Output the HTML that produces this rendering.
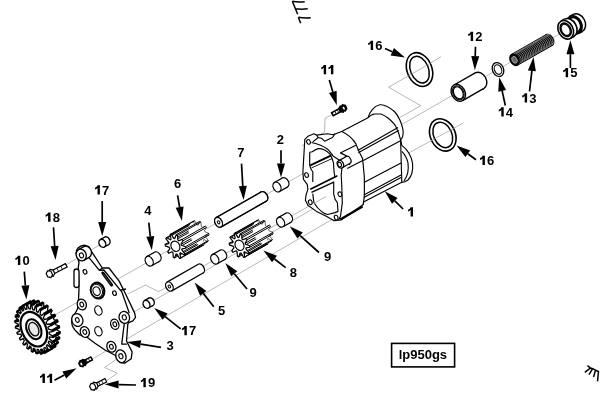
<!DOCTYPE html>
<html><head><meta charset="utf-8"><style>
html,body{margin:0;padding:0;background:#fff;}
svg{display:block;}
text{font-family:"Liberation Sans",sans-serif;font-weight:bold;fill:#000;}
.t{will-change:transform;}
</style></head><body>
<svg class="t" width="600" height="406" viewBox="0 0 600 406">
<rect width="600" height="406" fill="#fff"/>
<ellipse cx="419.5" cy="69.6" rx="12.4" ry="17.5" transform="rotate(-22 419.5 69.6)" fill="#fff" stroke="#000" stroke-width="1.6"/>
<ellipse cx="419.5" cy="69.6" rx="9" ry="13.9" transform="rotate(-22 419.5 69.6)" fill="#fff" stroke="#000" stroke-width="1.5"/>
<ellipse cx="442.8" cy="134.9" rx="12.5" ry="16.8" transform="rotate(-24 442.8 134.9)" fill="#fff" stroke="#000" stroke-width="1.6"/>
<ellipse cx="442.8" cy="134.9" rx="9.1" ry="13.3" transform="rotate(-24 442.8 134.9)" fill="#fff" stroke="#000" stroke-width="1.5"/>
<ellipse cx="263.78" cy="196.55" rx="3.5" ry="5.2" transform="rotate(-28 263.78 196.55)" fill="#fff" stroke="#000" stroke-width="1.5"/>
<path d="M216.1 217.74L261.28 191.99L266.28 201.11L221.1 226.86Z" fill="#fff" stroke="none"/>
<path d="M216.1 217.74L261.28 191.99M221.1 226.86L266.28 201.11" fill="none" stroke="#000" stroke-width="1.5"/>
<ellipse cx="218.6" cy="222.3" rx="3.5" ry="5.2" transform="rotate(-28 218.6 222.3)" fill="#fff" stroke="#000" stroke-width="1.5"/>
<ellipse cx="218.6" cy="222.3" rx="1.2" ry="1.6" transform="rotate(-28 218.6 222.3)" fill="#fff" stroke="#000" stroke-width="1"/>
<path d="M45 320.7L305 172.5" fill="none" stroke="#999" stroke-width="0.7" stroke-linejoin="round"/>
<path d="M169 285.7L325 197" fill="none" stroke="#999" stroke-width="0.7" stroke-linejoin="round"/>
<path d="M127.7 294L145.5 285.1L158.6 291.7L169 285.7" fill="none" stroke="#999" stroke-width="0.7" stroke-linejoin="round"/>
<path d="M91.8 359.3L336 217.2" fill="none" stroke="#999" stroke-width="0.7" stroke-linejoin="round"/>
<path d="M124.3 317.4L340 193.3" fill="none" stroke="#999" stroke-width="0.7" stroke-linejoin="round"/>
<path d="M60 268.5L102 243.5" fill="none" stroke="#999" stroke-width="0.7" stroke-linejoin="round"/>
<path d="M331 115.2L325 118.2L324.5 132L301.7 146" fill="none" stroke="#999" stroke-width="0.7" stroke-linejoin="round"/>
<path d="M402.2 124.2L566.2 30.2" fill="none" stroke="#999" stroke-width="0.7" stroke-linejoin="round"/>
<path d="M441.1 56.7L420.2 69.2L388.6 87.2L420.7 105.7L399.7 117.5" fill="none" stroke="#999" stroke-width="0.7" stroke-linejoin="round"/>
<path d="M406 154.5L463.3 123" fill="none" stroke="#999" stroke-width="0.7" stroke-linejoin="round"/>
<path d="M107 380.3L117.4 373.3L104.6 367.5L116.2 359.3L120.9 356.2" fill="none" stroke="#999" stroke-width="0.7" stroke-linejoin="round"/>
<path d="M292.3 1.3 Q298 2.5 304.7 1.8 M292.3 1.3 L297.7 14.3 M295.3 8.7 Q301 9.5 307.7 8.8 M298.3 17.3 Q304 18.3 310.7 17.8 M298.3 17.3 L300.7 23.3" fill="none" stroke="#000" stroke-width="1.5"/>
<path d="M587.4 365.7 L590.4 368 L584.8 372.4 M590.4 368 L592.6 368.7 L589 374.6 M592.6 368.7 L595.5 370.2 L593.6 377 M595.5 370.2 L598.5 371.5 L597.5 381.3" fill="none" stroke="#000" stroke-width="1.5"/>
<path d="M304.8 139.4 L307.9 136.3 L314 133.8 L316.5 135.1 L327.6 133.8 L333 134.8 L341.7 131.5 L368 117.7 C369.5 112 374 106 379.7 104.8 C383 104.3 388 106 394.4 111.5 C398.5 115.5 402 124 403 130 C403.5 134 402.5 138 400.6 139.8 L401.8 145.4 C406 148.5 411 155 412.5 163 C413.3 170 412 176 408 180 C406 181.5 403.5 182.3 401.8 182.3 L363.5 201.9 L363.3 204.5 L341 220 L333.7 220.6 L326.3 216.3 L316.5 211.4 L307.9 205.3 L305.4 200.3 L306 195.4 L307.9 189.2 L307.2 184.3 L303.5 179.4 L302.9 172 Z" fill="#fff" stroke="#000" stroke-width="1.15" stroke-linejoin="round"/>
<path d="M311.5 142.5 C316 143.5 322 145 327.6 149.2 C330 151 331.5 154 333 156 L339.5 160.3" fill="none" stroke="#000" stroke-width="1.15" stroke-linejoin="round"/>
<path d="M342 167.6 L341.2 175 L341.7 184.3 L342.3 202.8 L340.5 216.3 L338.6 220" fill="none" stroke="#000" stroke-width="1.15" stroke-linejoin="round"/>
<path d="M316.5 135.1 L318.3 137.5 L312.8 141.9" fill="none" stroke="#000" stroke-width="1.15" stroke-linejoin="round"/>
<path d="M318.3 137.5 L321.4 138.2 L324.5 141.2 L332.5 137.5 L335 133.8" fill="none" stroke="#000" stroke-width="1.15" stroke-linejoin="round"/>
<path d="M341.7 131.5 C346 133.4 352.2 137.7 355.9 143.9 C358 150 360 154 362.6 158.6 C363.5 165 365 180 364.4 195 L363.3 204.5" fill="none" stroke="#000" stroke-width="1.15" stroke-linejoin="round"/>
<path d="M357.7 150.6 L398 127.5" fill="none" stroke="#000" stroke-width="1.15" stroke-linejoin="round"/>
<path d="M358.3 152.8 L398.6 130.5" fill="none" stroke="#000" stroke-width="1.15" stroke-linejoin="round"/>
<path d="M363.3 160.5 L401 140.5" fill="none" stroke="#000" stroke-width="1.15" stroke-linejoin="round"/>
<path d="M368 117.7 C370 115.5 372.5 114 374.8 114 L380.9 114 C384 115 386 116.5 388.3 118.3 C392 121.5 394.5 124 395.7 126.3 C397.5 129.5 399 133 400.6 139.8" fill="none" stroke="#000" stroke-width="1.15" stroke-linejoin="round"/>
<path d="M400.6 139.8 L401.8 182.3" fill="none" stroke="#000" stroke-width="1.15" stroke-linejoin="round"/>
<path d="M401.8 151.3 C404.5 154 407 158 408 163 C408.8 169 408.5 175 404 180.9" fill="none" stroke="#000" stroke-width="1.15" stroke-linejoin="round"/>
<path d="M364.4 182.3 L401 163.1" fill="none" stroke="#000" stroke-width="1.15" stroke-linejoin="round"/>
<path d="M363.8 195 L401 175" fill="none" stroke="#000" stroke-width="1.15" stroke-linejoin="round"/>
<path d="M363.8 197.6 L401 177.6" fill="none" stroke="#000" stroke-width="1.15" stroke-linejoin="round"/>
<path d="M340.3 152.9 L355.9 145.2" fill="none" stroke="#000" stroke-width="1.15" stroke-linejoin="round"/>
<path d="M340.3 152.9 C343 154 346 155.5 348 157.5 C349.5 159 350 161 349.6 165" fill="none" stroke="#000" stroke-width="1.15" stroke-linejoin="round"/>
<path d="M347.2 168.4 L363.2 160.3" fill="none" stroke="#000" stroke-width="1.15" stroke-linejoin="round"/>
<path d="M309.7 152.3 L312.2 151.7 L315.2 149.9 L318.3 148.6 C322 148.5 327 151 330 154.2 C331.5 157 333 160 333.5 163 C333.7 167 333.7 172 335 177.6" fill="none" stroke="#000" stroke-width="1.15" stroke-linejoin="round"/>
<path d="M309.7 152.3 L309.7 165.3 L311 169 L312.8 172 L312.8 181.9" fill="none" stroke="#000" stroke-width="1.15" stroke-linejoin="round"/>
<path d="M312.8 193.6 L313.4 199.1 L314 202.8 C316 206 318 209 321.4 211.4 C323 213 325 214 327.6 214.5 L335 212.6 L338 211.4 L337.4 202.8 L335 199.1 L333.7 194.2 L333.7 183.1" fill="none" stroke="#000" stroke-width="1.15" stroke-linejoin="round"/>
<path d="M310.3 165.3 L331.3 155.4" stroke="#000" stroke-width="2.0"/>
<path d="M311.5 167.9 L332.5 158.4" stroke="#000" stroke-width="0.9"/>
<path d="M310.3 189.2 L337.4 175.7" stroke="#000" stroke-width="1.6"/>
<path d="M311.5 192.3 L334.3 181.9" stroke="#000" stroke-width="1.3"/>
<path d="M340.2 219.5 L362.6 206.5" stroke="#000" stroke-width="2.2"/>
<ellipse cx="347.78" cy="160.09" rx="3" ry="3.9" transform="rotate(-28 347.78 160.09)" fill="#fff" stroke="#000" stroke-width="1.2"/>
<path d="M338.51 160.89L345.89 156.68L349.68 163.5L342.29 167.71Z" fill="#fff" stroke="none"/>
<path d="M338.51 160.89L345.89 156.68M342.29 167.71L349.68 163.5" fill="none" stroke="#000" stroke-width="1.2"/>
<ellipse cx="340.4" cy="164.3" rx="3" ry="3.9" transform="rotate(-28 340.4 164.3)" fill="#fff" stroke="#000" stroke-width="1.2"/>
<ellipse cx="308.5" cy="141.9" rx="1.8" ry="2.4" transform="rotate(-20 308.5 141.9)" fill="#fff" stroke="#000" stroke-width="1.1"/>
<ellipse cx="339.6" cy="164.6" rx="1.8" ry="2.4" transform="rotate(-20 339.6 164.6)" fill="#fff" stroke="#000" stroke-width="1.1"/>
<ellipse cx="306.6" cy="175.1" rx="1.8" ry="2.4" transform="rotate(-20 306.6 175.1)" fill="#fff" stroke="#000" stroke-width="1.1"/>
<ellipse cx="339.9" cy="194.2" rx="1.8" ry="2.4" transform="rotate(-20 339.9 194.2)" fill="#fff" stroke="#000" stroke-width="1.1"/>
<ellipse cx="310.3" cy="202.2" rx="1.8" ry="2.4" transform="rotate(-20 310.3 202.2)" fill="#fff" stroke="#000" stroke-width="1.1"/>
<ellipse cx="336.2" cy="217.6" rx="1.8" ry="2.4" transform="rotate(-20 336.2 217.6)" fill="#fff" stroke="#000" stroke-width="1.1"/>
<path d="M314 203.5L326 196.5" fill="none" stroke="#999" stroke-width="0.7" stroke-linejoin="round"/>
<path d="M76.1 253.3 C76.3 249 79 246 84.2 245.2 L88.7 246.6 L90.9 250.5 L102.3 268 L109 268 L119.3 281.4 L125.2 293.2 L134.7 313.1 L135.5 317.4 L132.9 320.9 L128.6 322.6 L127.8 324.3 L126.5 341 L132.1 351.9 L131.2 358.8 L125 363 L120 362.5 L116.5 356 L105 350 L95 343.3 L87 337.3 L80 335 C78 333 74 330 72.5 326 C71 322 71.5 316 75 313.5 L77.5 309 L78.5 300 L79 288.7 L78.3 267.3 L79 262.2 Z" fill="#fff" stroke="#000" stroke-width="1.3" stroke-linejoin="round"/>
<path d="M86.8 254.8 L99.4 270.3 L102.3 268" fill="none" stroke="#000" stroke-width="1.3" stroke-linejoin="round"/>
<path d="M99.4 270.3 L103.8 270 L121.8 291.8 L129.3 313.1" fill="none" stroke="#000" stroke-width="1.3" stroke-linejoin="round"/>
<path d="M124.3 323.4 L121.7 344.1 L126.9 344.1" fill="none" stroke="#000" stroke-width="1.3" stroke-linejoin="round"/>
<path d="M121 290 L126 289" fill="none" stroke="#000" stroke-width="1.3" stroke-linejoin="round"/>
<path d="M102.8 273 L111.6 285" stroke="#000" stroke-width="3.0" stroke-linecap="round"/>
<path d="M103.2 273.8 L111 284.3" stroke="#777" stroke-width="0.6"/>
<rect x="74" y="269" width="5" height="18.5" rx="2.5" fill="#fff" stroke="#000" stroke-width="1.3"/>
<ellipse cx="86.41" cy="252.03" rx="4.9" ry="6" transform="rotate(-20 86.41 252.03)" fill="#fff" stroke="#000" stroke-width="1.3"/>
<path d="M78.53 249.65L83.75 246.68L89.08 257.38L83.87 260.35Z" fill="#fff" stroke="none"/>
<path d="M78.53 249.65L83.75 246.68M83.87 260.35L89.08 257.38" fill="none" stroke="#000" stroke-width="1.3"/>
<ellipse cx="81.2" cy="255" rx="4.9" ry="6" transform="rotate(-20 81.2 255)" fill="#fff" stroke="#000" stroke-width="1.3"/>
<ellipse cx="81.5" cy="255.4" rx="2" ry="2.5" transform="rotate(-20 81.5 255.4)" fill="#fff" stroke="#000" stroke-width="1.1"/>
<ellipse cx="124.3" cy="317.4" rx="5.2" ry="6" transform="rotate(-20 124.3 317.4)" fill="#fff" stroke="#000" stroke-width="1.3"/>
<ellipse cx="124.3" cy="317.4" rx="2" ry="2.6" transform="rotate(-20 124.3 317.4)" fill="#fff" stroke="#000" stroke-width="1.1"/>
<ellipse cx="120.9" cy="356.2" rx="5" ry="6.5" transform="rotate(-20 120.9 356.2)" fill="#fff" stroke="#000" stroke-width="1.3"/>
<ellipse cx="120.9" cy="356.2" rx="2" ry="2.6" transform="rotate(-20 120.9 356.2)" fill="#fff" stroke="#000" stroke-width="1.1"/>
<ellipse cx="97.6" cy="290.6" rx="6.6" ry="8" transform="rotate(-20 97.6 290.6)" fill="#fff" stroke="#000" stroke-width="2.2"/>
<ellipse cx="96.8" cy="291" rx="5.6" ry="6.8" transform="rotate(-20 96.8 291)" fill="#fff" stroke="#000" stroke-width="1.0"/>
<ellipse cx="96.6" cy="291.2" rx="3.5" ry="4.5" transform="rotate(-20 96.6 291.2)" fill="#fff" stroke="#000" stroke-width="1.2"/>
<ellipse cx="81.8" cy="304.5" rx="4.5" ry="5.5" transform="rotate(-20 81.8 304.5)" fill="#fff" stroke="#000" stroke-width="1.3"/>
<ellipse cx="81.8" cy="304.5" rx="1.8" ry="2.4" transform="rotate(-20 81.8 304.5)" fill="#fff" stroke="#000" stroke-width="1.1"/>
<ellipse cx="77.3" cy="320" rx="5.5" ry="6.5" transform="rotate(-20 77.3 320)" fill="#fff" stroke="#000" stroke-width="1.3"/>
<ellipse cx="77.3" cy="320" rx="1.8" ry="2.4" transform="rotate(-20 77.3 320)" fill="#fff" stroke="#000" stroke-width="1.1"/>
<ellipse cx="84.8" cy="332" rx="4.5" ry="5.5" transform="rotate(-20 84.8 332)" fill="#fff" stroke="#000" stroke-width="1.3"/>
<ellipse cx="84.8" cy="332" rx="1.8" ry="2.4" transform="rotate(-20 84.8 332)" fill="#fff" stroke="#000" stroke-width="1.1"/>
<ellipse cx="114.8" cy="324.3" rx="4" ry="5.2" transform="rotate(-20 114.8 324.3)" fill="#fff" stroke="#000" stroke-width="1.3"/>
<ellipse cx="114.8" cy="324.3" rx="1.8" ry="2.4" transform="rotate(-20 114.8 324.3)" fill="#fff" stroke="#000" stroke-width="1.1"/>
<ellipse cx="111.4" cy="346.7" rx="4.5" ry="5.5" transform="rotate(-20 111.4 346.7)" fill="#fff" stroke="#000" stroke-width="1.3"/>
<ellipse cx="111.4" cy="346.7" rx="1.8" ry="2.4" transform="rotate(-20 111.4 346.7)" fill="#fff" stroke="#000" stroke-width="1.1"/>
<ellipse cx="85" cy="271.8" rx="1.8" ry="2.3" transform="rotate(-20 85 271.8)" fill="#fff" stroke="#000" stroke-width="1.2"/>
<ellipse cx="114.5" cy="293.2" rx="1.8" ry="2.3" transform="rotate(-20 114.5 293.2)" fill="#fff" stroke="#000" stroke-width="1.2"/>
<ellipse cx="98.4" cy="310.5" rx="3.5" ry="4.8" transform="rotate(-20 98.4 310.5)" fill="#fff" stroke="#000" stroke-width="1.2"/>
<ellipse cx="98.4" cy="331.2" rx="3.5" ry="4.8" transform="rotate(-20 98.4 331.2)" fill="#fff" stroke="#000" stroke-width="1.2"/>
<ellipse cx="479.59" cy="80.67" rx="6.7" ry="8.9" transform="rotate(-28 479.59 80.67)" fill="#fff" stroke="#000" stroke-width="1.4"/>
<path d="M453.99 85.01L475.28 72.88L483.89 88.46L462.61 100.59Z" fill="#fff" stroke="none"/>
<path d="M453.99 85.01L475.28 72.88M462.61 100.59L483.89 88.46" fill="none" stroke="#000" stroke-width="1.4"/>
<ellipse cx="458.3" cy="92.8" rx="6.7" ry="8.9" transform="rotate(-28 458.3 92.8)" fill="#fff" stroke="#000" stroke-width="1.4"/>
<ellipse cx="458.3" cy="92.8" rx="5.3" ry="7.4" transform="rotate(-28 458.3 92.8)" fill="#fff" stroke="#000" stroke-width="1.0"/>
<ellipse cx="458.3" cy="92.8" rx="4.5" ry="6.4" transform="rotate(-28 458.3 92.8)" fill="#fff" stroke="#000" stroke-width="1.2"/>
<ellipse cx="498" cy="69.5" rx="5.5" ry="7.2" transform="rotate(-24 498 69.5)" fill="#fff" stroke="#000" stroke-width="1.3"/>
<ellipse cx="498" cy="69.5" rx="3.5" ry="5" transform="rotate(-24 498 69.5)" fill="#fff" stroke="#000" stroke-width="1.1"/>
<ellipse cx="549.25" cy="39.99" rx="4.1" ry="5.9" transform="rotate(-28 549.25 39.99)" fill="#000" stroke="#000" stroke-width="1.5"/>
<path d="M511.66 54.63L546.41 34.82L552.1 45.16L517.34 64.97Z" fill="#000" stroke="#000" stroke-width="1.5"/>
<path d="M512.44 54.39A3.98 5.72 -28 0 1 517.95 64.42" fill="none" stroke="#ccc" stroke-width="0.6"/>
<path d="M514.02 53.49A3.98 5.72 -28 0 1 519.53 63.52" fill="none" stroke="#ccc" stroke-width="0.6"/>
<path d="M515.6 52.59A3.98 5.72 -28 0 1 521.11 62.62" fill="none" stroke="#ccc" stroke-width="0.6"/>
<path d="M517.18 51.69A3.98 5.72 -28 0 1 522.69 61.72" fill="none" stroke="#ccc" stroke-width="0.6"/>
<path d="M518.76 50.79A3.98 5.72 -28 0 1 524.27 60.82" fill="none" stroke="#ccc" stroke-width="0.6"/>
<path d="M520.34 49.89A3.98 5.72 -28 0 1 525.85 59.92" fill="none" stroke="#ccc" stroke-width="0.6"/>
<path d="M521.92 48.99A3.98 5.72 -28 0 1 527.43 59.02" fill="none" stroke="#ccc" stroke-width="0.6"/>
<path d="M523.49 48.09A3.98 5.72 -28 0 1 529.01 58.12" fill="none" stroke="#ccc" stroke-width="0.6"/>
<path d="M525.07 47.19A3.98 5.72 -28 0 1 530.59 57.22" fill="none" stroke="#ccc" stroke-width="0.6"/>
<path d="M526.65 46.29A3.98 5.72 -28 0 1 532.17 56.32" fill="none" stroke="#ccc" stroke-width="0.6"/>
<path d="M528.23 45.39A3.98 5.72 -28 0 1 533.75 55.42" fill="none" stroke="#ccc" stroke-width="0.6"/>
<path d="M529.81 44.49A3.98 5.72 -28 0 1 535.33 54.51" fill="none" stroke="#ccc" stroke-width="0.6"/>
<path d="M531.39 43.59A3.98 5.72 -28 0 1 536.91 53.61" fill="none" stroke="#ccc" stroke-width="0.6"/>
<path d="M532.97 42.69A3.98 5.72 -28 0 1 538.49 52.71" fill="none" stroke="#ccc" stroke-width="0.6"/>
<path d="M534.55 41.79A3.98 5.72 -28 0 1 540.07 51.81" fill="none" stroke="#ccc" stroke-width="0.6"/>
<path d="M536.13 40.89A3.98 5.72 -28 0 1 541.65 50.91" fill="none" stroke="#ccc" stroke-width="0.6"/>
<path d="M537.71 39.99A3.98 5.72 -28 0 1 543.23 50.01" fill="none" stroke="#ccc" stroke-width="0.6"/>
<path d="M539.29 39.09A3.98 5.72 -28 0 1 544.81 49.11" fill="none" stroke="#ccc" stroke-width="0.6"/>
<path d="M540.87 38.18A3.98 5.72 -28 0 1 546.39 48.21" fill="none" stroke="#ccc" stroke-width="0.6"/>
<path d="M542.45 37.28A3.98 5.72 -28 0 1 547.97 47.31" fill="none" stroke="#ccc" stroke-width="0.6"/>
<path d="M544.03 36.38A3.98 5.72 -28 0 1 549.55 46.41" fill="none" stroke="#ccc" stroke-width="0.6"/>
<path d="M545.61 35.48A3.98 5.72 -28 0 1 551.13 45.51" fill="none" stroke="#ccc" stroke-width="0.6"/>
<path d="M547.19 34.58A3.98 5.72 -28 0 1 552.71 44.61" fill="none" stroke="#ccc" stroke-width="0.6"/>
<ellipse cx="514.5" cy="59.8" rx="4.1" ry="5.9" transform="rotate(-28 514.5 59.8)" fill="#111" stroke="#000" stroke-width="1.6"/>
<ellipse cx="514.5" cy="59.8" rx="2.46" ry="3.54" transform="rotate(-28 514.5 59.8)" fill="#666" stroke="#aaa" stroke-width="0.8"/>
<ellipse cx="577.86" cy="22.87" rx="7.2" ry="9.6" transform="rotate(-28 577.86 22.87)" fill="#fff" stroke="#000" stroke-width="1.5"/>
<path d="M569.74 16.45L573.22 14.47L582.51 31.27L579.03 33.25Z" fill="#fff" stroke="none"/>
<path d="M569.74 16.45L573.22 14.47M579.03 33.25L582.51 31.27" fill="none" stroke="#000" stroke-width="1.5"/>
<ellipse cx="574.39" cy="24.85" rx="7.2" ry="9.6" transform="rotate(-28 574.39 24.85)" fill="#fff" stroke="#000" stroke-width="1.5"/>
<ellipse cx="574.39" cy="24.85" rx="5.8" ry="8.1" transform="rotate(-28 574.39 24.85)" fill="#fff" stroke="#000" stroke-width="1.0"/>
<ellipse cx="574.82" cy="24.6" rx="5.7" ry="7.9" transform="rotate(-28 574.82 24.6)" fill="#fff" stroke="#000" stroke-width="2.4"/>
<path d="M564.93 21.15L571.01 17.68L578.64 31.52L572.56 34.98Z" fill="#fff" stroke="none"/>
<path d="M564.93 21.15L571.01 17.68M572.56 34.98L578.64 31.52" fill="none" stroke="#000" stroke-width="2.4"/>
<ellipse cx="568.74" cy="28.07" rx="5.7" ry="7.9" transform="rotate(-28 568.74 28.07)" fill="#fff" stroke="#000" stroke-width="2.4"/>
<ellipse cx="569.18" cy="27.82" rx="7.3" ry="9.8" transform="rotate(-28 569.18 27.82)" fill="#fff" stroke="#000" stroke-width="1.6"/>
<path d="M560.96 21.22L564.43 19.24L573.92 36.4L570.44 38.38Z" fill="#fff" stroke="none"/>
<path d="M560.96 21.22L564.43 19.24M570.44 38.38L573.92 36.4" fill="none" stroke="#000" stroke-width="1.6"/>
<ellipse cx="565.7" cy="29.8" rx="7.3" ry="9.8" transform="rotate(-28 565.7 29.8)" fill="#fff" stroke="#000" stroke-width="1.6"/>
<ellipse cx="565.7" cy="29.8" rx="5" ry="7.1" transform="rotate(-28 565.7 29.8)" fill="#fff" stroke="#000" stroke-width="1.6"/>
<ellipse cx="565.7" cy="29.8" rx="4.1" ry="6" transform="rotate(-28 565.7 29.8)" fill="#fff" stroke="#000" stroke-width="1.2"/>
<path d="M341.78 107.11L331.58 112.71L333.22 115.69L343.42 110.09Z" fill="#fff" stroke="#000" stroke-width="1.6"/>
<path d="M337.19 109.63L338.83 112.61" stroke="#000" stroke-width="0.8"/>
<path d="M334.64 111.03L336.28 114.01" stroke="#000" stroke-width="0.8"/>
<path d="M344.49 109.61L343.12 112.07L340.35 111.54L338.95 108.55L340.33 106.09L343.1 106.62Z" fill="#000" stroke="#000" stroke-width="1.6"/>
<path d="M346.68 108.41L345.31 110.87L342.54 110.34L341.15 107.35L342.52 104.89L345.29 105.42Z" fill="#000" stroke="#000" stroke-width="1.6"/>
<ellipse cx="343.61" cy="108.08" rx="0.9" ry="1.6" transform="rotate(-25 343.91 107.88)" fill="#fff"/>
<ellipse cx="284.82" cy="182.54" rx="3.7" ry="5.2" transform="rotate(-28 284.82 182.54)" fill="#fff" stroke="#000" stroke-width="1.3"/>
<path d="M274.49 182.45L282.31 177.99L287.33 187.1L279.51 191.55Z" fill="#fff" stroke="none"/>
<path d="M274.49 182.45L282.31 177.99M279.51 191.55L287.33 187.1" fill="none" stroke="#000" stroke-width="1.3"/>
<ellipse cx="277" cy="187" rx="3.7" ry="5.2" transform="rotate(-28 277 187)" fill="#fff" stroke="#000" stroke-width="1.3"/>
<ellipse cx="288.42" cy="217.74" rx="3.7" ry="5.2" transform="rotate(-28 288.42 217.74)" fill="#fff" stroke="#000" stroke-width="1.3"/>
<path d="M278.09 217.65L285.91 213.19L290.93 222.3L283.11 226.75Z" fill="#fff" stroke="none"/>
<path d="M278.09 217.65L285.91 213.19M283.11 226.75L290.93 222.3" fill="none" stroke="#000" stroke-width="1.3"/>
<ellipse cx="280.6" cy="222.2" rx="3.7" ry="5.2" transform="rotate(-28 280.6 222.2)" fill="#fff" stroke="#000" stroke-width="1.3"/>
<ellipse cx="157.02" cy="256.74" rx="3.7" ry="5.2" transform="rotate(-28 157.02 256.74)" fill="#fff" stroke="#000" stroke-width="1.3"/>
<path d="M146.69 256.65L154.51 252.19L159.53 261.3L151.71 265.75Z" fill="#fff" stroke="none"/>
<path d="M146.69 256.65L154.51 252.19M151.71 265.75L159.53 261.3" fill="none" stroke="#000" stroke-width="1.3"/>
<ellipse cx="149.2" cy="261.2" rx="3.7" ry="5.2" transform="rotate(-28 149.2 261.2)" fill="#fff" stroke="#000" stroke-width="1.3"/>
<ellipse cx="222.62" cy="254.74" rx="3.7" ry="5.2" transform="rotate(-28 222.62 254.74)" fill="#fff" stroke="#000" stroke-width="1.3"/>
<path d="M212.29 254.65L220.11 250.19L225.13 259.3L217.31 263.75Z" fill="#fff" stroke="none"/>
<path d="M212.29 254.65L220.11 250.19M217.31 263.75L225.13 259.3" fill="none" stroke="#000" stroke-width="1.3"/>
<ellipse cx="214.8" cy="259.2" rx="3.7" ry="5.2" transform="rotate(-28 214.8 259.2)" fill="#fff" stroke="#000" stroke-width="1.3"/>
<ellipse cx="106.64" cy="240.82" rx="3.2" ry="4.2" transform="rotate(-28 106.64 240.82)" fill="#fff" stroke="#000" stroke-width="1.4"/>
<path d="M100.27 239.63L104.61 237.15L108.68 244.5L104.33 246.97Z" fill="#fff" stroke="none"/>
<path d="M100.27 239.63L104.61 237.15M104.33 246.97L108.68 244.5" fill="none" stroke="#000" stroke-width="1.4"/>
<ellipse cx="102.3" cy="243.3" rx="3.2" ry="4.2" transform="rotate(-28 102.3 243.3)" fill="#fff" stroke="#000" stroke-width="1.4"/>
<ellipse cx="150.84" cy="301.82" rx="3.2" ry="4.2" transform="rotate(-28 150.84 301.82)" fill="#fff" stroke="#000" stroke-width="1.4"/>
<path d="M144.47 300.63L148.81 298.15L152.88 305.5L148.53 307.97Z" fill="#fff" stroke="none"/>
<path d="M144.47 300.63L148.81 298.15M148.53 307.97L152.88 305.5" fill="none" stroke="#000" stroke-width="1.4"/>
<ellipse cx="146.5" cy="304.3" rx="3.2" ry="4.2" transform="rotate(-28 146.5 304.3)" fill="#fff" stroke="#000" stroke-width="1.4"/>
<ellipse cx="263.78" cy="196.55" rx="3.5" ry="5.2" transform="rotate(-28 263.78 196.55)" fill="#fff" stroke="#000" stroke-width="1.3"/>
<path d="M216.1 217.74L261.28 191.99L266.28 201.11L221.1 226.86Z" fill="#fff" stroke="none"/>
<path d="M216.1 217.74L261.28 191.99M221.1 226.86L266.28 201.11" fill="none" stroke="#000" stroke-width="1.3"/>
<ellipse cx="218.6" cy="222.3" rx="3.5" ry="5.2" transform="rotate(-28 218.6 222.3)" fill="#fff" stroke="#000" stroke-width="1.3"/>
<ellipse cx="218.6" cy="222.3" rx="1.2" ry="1.6" transform="rotate(-28 218.6 222.3)" fill="#fff" stroke="#000" stroke-width="1"/>
<ellipse cx="200.68" cy="268.67" rx="3.4" ry="5" transform="rotate(-28 200.68 268.67)" fill="#fff" stroke="#000" stroke-width="1.3"/>
<path d="M166.99 282.12L198.27 264.29L203.08 273.06L171.81 290.88Z" fill="#fff" stroke="none"/>
<path d="M166.99 282.12L198.27 264.29M171.81 290.88L203.08 273.06" fill="none" stroke="#000" stroke-width="1.3"/>
<ellipse cx="169.4" cy="286.5" rx="3.4" ry="5" transform="rotate(-28 169.4 286.5)" fill="#fff" stroke="#000" stroke-width="1.3"/>
<ellipse cx="169.4" cy="286.5" rx="1.2" ry="1.6" transform="rotate(-28 169.4 286.5)" fill="#fff" stroke="#000" stroke-width="1"/>
<path d="M204.69 231.24L204.91 231.82L208.88 233.35L209.1 234.89L205.44 235.52L205.38 236.08L205.29 236.61L208.36 240.5L207.79 241.65L203.91 239.4L203.58 239.72L203.22 240L204.22 244.75L203.07 245.08L200.46 240.8L199.97 240.76L199.48 240.68L198.02 244.49L196.74 243.87L196.39 239.2L195.94 238.82L195.5 238.41L192.14 239.81L191.22 238.48L193.27 235.2L193.02 234.63L192.81 234.04L188.83 232.51L188.61 230.97L192.28 230.34L192.33 229.78L192.42 229.25L189.35 225.37L189.92 224.21L193.8 226.46L194.14 226.15L194.5 225.86L193.5 221.11L194.65 220.78L197.26 225.06L197.74 225.1L198.24 225.18L199.7 221.37L200.98 221.99L201.32 226.67L201.78 227.04L202.21 227.45L205.57 226.05L206.5 227.38L204.45 230.66Z" fill="#fff" stroke="#000" stroke-width="0.6" stroke-linejoin="round"/>
<path d="M169.12 234.92L192.58 221.55L205.14 244.31L181.68 257.68Z" fill="#fff"/>
<path d="M185.42 246.72L208.88 233.35M185.64 248.26L209.1 234.89M184.91 253.87L208.36 240.5M184.33 255.02L207.79 241.65M180.76 258.12L204.22 244.75M179.61 258.45L203.07 245.08M174.56 257.86L198.02 244.49M173.28 257.24L196.74 243.87M168.69 253.18L192.14 239.81M167.76 251.85L191.22 238.48M165.38 245.88L188.83 232.51M165.16 244.34L188.61 230.97M165.89 238.73L189.35 225.37M166.47 237.58L189.92 224.21M170.04 234.48L193.5 221.11M171.19 234.15L194.65 220.78M176.24 234.74L199.7 221.37M177.52 235.36L200.98 221.99M182.11 239.42L205.57 226.05M183.04 240.75L206.5 227.38" fill="none" stroke="#000" stroke-width="1.0"/>
<path d="M181.24 244.61L181.45 245.19L185.42 246.72L185.64 248.26L181.98 248.89L181.92 249.45L181.83 249.98L184.91 253.87L184.33 255.02L180.45 252.77L180.12 253.09L179.76 253.37L180.76 258.12L179.61 258.45L177 254.17L176.51 254.13L176.02 254.05L174.56 257.86L173.28 257.24L172.94 252.57L172.48 252.19L172.05 251.78L168.69 253.18L167.76 251.85L169.81 248.57L169.56 247.99L169.35 247.41L165.38 245.88L165.16 244.34L168.82 243.71L168.88 243.15L168.97 242.62L165.89 238.73L166.47 237.58L170.35 239.83L170.68 239.51L171.04 239.23L170.04 234.48L171.19 234.15L173.8 238.43L174.29 238.47L174.78 238.55L176.24 234.74L177.52 235.36L177.86 240.03L178.32 240.41L178.75 240.82L182.11 239.42L183.04 240.75L180.99 244.03Z" fill="#fff" stroke="#000" stroke-width="1.2" stroke-linejoin="round"/>
<ellipse cx="175.4" cy="246.3" rx="4.3" ry="5.4" transform="rotate(-28 175.4 246.3)" fill="#fff" stroke="#000" stroke-width="1.2"/>
<path d="M268.79 230.24L269.01 230.82L272.98 232.35L273.2 233.89L269.54 234.52L269.48 235.08L269.39 235.61L272.46 239.5L271.89 240.65L268.01 238.4L267.68 238.72L267.32 239L268.32 243.75L267.17 244.08L264.56 239.8L264.07 239.76L263.58 239.68L262.12 243.49L260.84 242.87L260.49 238.2L260.04 237.82L259.6 237.41L256.24 238.81L255.32 237.48L257.37 234.2L257.12 233.63L256.91 233.04L252.93 231.51L252.71 229.97L256.38 229.34L256.43 228.78L256.52 228.25L253.45 224.37L254.02 223.21L257.9 225.46L258.24 225.15L258.6 224.86L257.6 220.11L258.75 219.78L261.36 224.06L261.84 224.1L262.34 224.18L263.8 220.37L265.08 220.99L265.42 225.67L265.88 226.04L266.31 226.45L269.67 225.05L270.6 226.38L268.55 229.66Z" fill="#fff" stroke="#000" stroke-width="0.6" stroke-linejoin="round"/>
<path d="M233.22 233.92L256.68 220.55L269.24 243.31L245.78 256.68Z" fill="#fff"/>
<path d="M249.52 245.72L272.98 232.35M249.74 247.26L273.2 233.89M249.01 252.87L272.46 239.5M248.43 254.02L271.89 240.65M244.86 257.12L268.32 243.75M243.71 257.45L267.17 244.08M238.66 256.86L262.12 243.49M237.38 256.24L260.84 242.87M232.79 252.18L256.24 238.81M231.86 250.85L255.32 237.48M229.48 244.88L252.93 231.51M229.26 243.34L252.71 229.97M229.99 237.73L253.45 224.37M230.57 236.58L254.02 223.21M234.14 233.48L257.6 220.11M235.29 233.15L258.75 219.78M240.34 233.74L263.8 220.37M241.62 234.36L265.08 220.99M246.21 238.42L269.67 225.05M247.14 239.75L270.6 226.38" fill="none" stroke="#000" stroke-width="1.0"/>
<path d="M245.34 243.61L245.55 244.19L249.52 245.72L249.74 247.26L246.08 247.89L246.02 248.45L245.93 248.98L249.01 252.87L248.43 254.02L244.55 251.77L244.22 252.09L243.86 252.37L244.86 257.12L243.71 257.45L241.1 253.17L240.61 253.13L240.12 253.05L238.66 256.86L237.38 256.24L237.04 251.57L236.58 251.19L236.15 250.78L232.79 252.18L231.86 250.85L233.91 247.57L233.66 246.99L233.45 246.41L229.48 244.88L229.26 243.34L232.92 242.71L232.98 242.15L233.07 241.62L229.99 237.73L230.57 236.58L234.45 238.83L234.78 238.51L235.14 238.23L234.14 233.48L235.29 233.15L237.9 237.43L238.39 237.47L238.88 237.55L240.34 233.74L241.62 234.36L241.96 239.03L242.42 239.41L242.85 239.82L246.21 238.42L247.14 239.75L245.09 243.03Z" fill="#fff" stroke="#000" stroke-width="1.2" stroke-linejoin="round"/>
<ellipse cx="239.5" cy="245.3" rx="4.3" ry="5.4" transform="rotate(-28 239.5 245.3)" fill="#fff" stroke="#000" stroke-width="1.2"/>
<path d="M53.82 319.1L54.24 320.05L57.54 320.01L58.07 321.43L55.33 322.95L55.62 323.93L55.89 324.91L59.37 325.98L59.65 327.41L56.47 327.85L56.59 328.82L56.68 329.78L60.14 331.88L60.16 333.25L56.72 332.59L56.66 333.49L56.57 334.38L59.8 337.38L59.56 338.61L56.07 336.89L55.83 337.67L55.56 338.42L58.39 342.17L57.9 343.17L54.55 340.49L54.15 341.11L53.72 341.69L55.97 345.95L55.26 346.69L52.26 343.19L51.72 343.61L51.16 343.98L52.7 348.52L51.81 348.93L49.33 344.84L48.68 345.03L48.01 345.18L48.76 349.72L47.73 349.79L45.92 345.33L45.19 345.29L44.46 345.19L44.37 349.48L43.28 349.21L42.23 344.64L41.48 344.36L40.73 344.04L39.8 347.82L38.71 347.22L38.49 342.81L37.75 342.31L37.02 341.78L35.32 344.83L34.28 343.94L34.9 339.94L34.22 339.26L33.55 338.54L31.17 340.69L30.25 339.55L31.67 336.2L31.09 335.37L30.53 334.51L27.6 335.64L26.86 334.32L29 331.82L28.55 330.88L28.13 329.93L24.83 329.97L24.3 328.55L27.04 327.03L26.75 326.05L26.48 325.07L23 324.01L22.72 322.57L25.9 322.13L25.78 321.16L25.69 320.2L22.23 318.1L22.21 316.73L25.65 317.39L25.71 316.49L25.8 315.61L22.57 312.6L22.81 311.37L26.3 313.1L26.54 312.31L26.81 311.56L23.98 307.82L24.47 306.81L27.82 309.49L28.22 308.87L28.65 308.29L26.4 304.03L27.11 303.3L30.11 306.79L30.65 306.37L31.21 306L29.67 301.46L30.56 301.05L33.04 305.14L33.69 304.95L34.36 304.81L33.61 300.26L34.63 300.19L36.45 304.65L37.18 304.7L37.91 304.79L38 300.5L39.09 300.77L40.14 305.34L40.89 305.62L41.64 305.94L42.57 302.16L43.66 302.76L43.88 307.17L44.62 307.67L45.35 308.21L47.05 305.15L48.09 306.05L47.47 310.04L48.15 310.73L48.82 311.44L51.2 309.29L52.12 310.43L50.69 313.78L51.28 314.61L51.84 315.47L54.77 314.34L55.51 315.66L53.37 318.17Z" fill="#fff" stroke="#000" stroke-width="1.3" stroke-linejoin="round"/>
<path d="M21.93 305.87L29.31 301.66L53.06 348.32L45.67 352.53Z" fill="#fff"/>
<path d="M50.16 324.22L57.54 320.01M50.69 325.64L58.07 321.43M51.98 330.18L59.37 325.98M52.27 331.62L59.65 327.41M52.75 336.09L60.14 331.88M52.77 337.46L60.16 333.25M52.42 341.59L59.8 337.38M52.18 342.82L59.56 338.61M51 346.37L58.39 342.17M50.51 347.38L57.9 343.17M48.59 350.16L55.97 345.95M47.88 350.89L55.26 346.69M45.31 352.73L52.7 348.52M44.42 353.14L51.81 348.93M41.37 353.93L48.76 349.72M40.35 354L47.73 349.79M36.99 353.69L44.37 349.48M35.9 353.42L43.28 349.21M32.42 352.03L39.8 347.82M31.32 351.43L38.71 347.22M27.93 349.04L35.32 344.83M26.89 348.15L34.28 343.94M23.78 344.9L31.17 340.69M22.87 343.76L30.25 339.55M20.22 339.85L27.6 335.64M19.47 338.53L26.86 334.32M17.44 334.18L24.83 329.97M16.91 332.76L24.3 328.55M15.62 328.22L23 324.01M15.33 326.78L22.72 322.57M14.85 322.31L22.23 318.1M14.83 320.94L22.21 316.73M15.18 316.81L22.57 312.6M15.42 315.58L22.81 311.37M16.6 312.03L23.98 307.82M17.09 311.02L24.47 306.81M19.01 308.24L26.4 304.03M19.72 307.51L27.11 303.3M22.29 305.67L29.67 301.46M23.18 305.26L30.56 301.05M26.23 304.47L33.61 300.26M27.25 304.4L34.63 300.19M30.61 304.71L38 300.5M31.7 304.98L39.09 300.77M35.18 306.37L42.57 302.16M36.28 306.97L43.66 302.76M39.67 309.36L47.05 305.15M40.71 310.25L48.09 306.05M43.82 313.5L51.2 309.29M44.73 314.64L52.12 310.43M47.38 318.55L54.77 314.34M48.13 319.87L55.51 315.66" fill="none" stroke="#000" stroke-width="1.7"/>
<path d="M46.43 323.31L46.86 324.26L50.16 324.22L50.69 325.64L47.94 327.16L48.24 328.14L48.5 329.12L51.98 330.18L52.27 331.62L49.08 332.06L49.21 333.03L49.29 333.99L52.75 336.09L52.77 337.46L49.34 336.8L49.28 337.7L49.18 338.58L52.42 341.59L52.18 342.82L48.69 341.09L48.45 341.88L48.18 342.63L51 346.37L50.51 347.38L47.17 344.7L46.77 345.32L46.34 345.9L48.59 350.16L47.88 350.89L44.88 347.4L44.34 347.82L43.77 348.19L45.31 352.73L44.42 353.14L41.94 349.05L41.29 349.24L40.62 349.39L41.37 353.93L40.35 354L38.53 349.54L37.81 349.49L37.08 349.4L36.99 353.69L35.9 353.42L34.85 348.85L34.1 348.57L33.34 348.25L32.42 352.03L31.32 351.43L31.1 347.02L30.36 346.52L29.64 345.99L27.93 349.04L26.89 348.15L27.51 344.15L26.83 343.47L26.17 342.75L23.78 344.9L22.87 343.76L24.29 340.41L23.71 339.58L23.15 338.72L20.22 339.85L19.47 338.53L21.62 336.03L21.17 335.09L20.74 334.14L17.44 334.18L16.91 332.76L19.66 331.24L19.36 330.26L19.1 329.28L15.62 328.22L15.33 326.78L18.52 326.34L18.39 325.37L18.31 324.41L14.85 322.31L14.83 320.94L18.26 321.6L18.32 320.7L18.42 319.82L15.18 316.81L15.42 315.58L18.91 317.31L19.15 316.52L19.42 315.77L16.6 312.03L17.09 311.02L20.43 313.7L20.83 313.08L21.26 312.5L19.01 308.24L19.72 307.51L22.72 311L23.26 310.58L23.83 310.21L22.29 305.67L23.18 305.26L25.66 309.35L26.31 309.16L26.98 309.01L26.23 304.47L27.25 304.4L29.07 308.86L29.79 308.91L30.52 309L30.61 304.71L31.7 304.98L32.75 309.55L33.5 309.83L34.26 310.15L35.18 306.37L36.28 306.97L36.5 311.38L37.24 311.88L37.96 312.41L39.67 309.36L40.71 310.25L40.09 314.25L40.77 314.93L41.43 315.65L43.82 313.5L44.73 314.64L43.31 317.99L43.89 318.82L44.45 319.68L47.38 318.55L48.13 319.87L45.98 322.37Z" fill="#fff" stroke="#000" stroke-width="1.3" stroke-linejoin="round"/>
<ellipse cx="33.8" cy="329.2" rx="12" ry="18.2" transform="rotate(-25 33.8 329.2)" fill="#fff" stroke="#000" stroke-width="2.2"/>
<ellipse cx="33.8" cy="329.2" rx="7" ry="10.5" transform="rotate(-25 33.8 329.2)" fill="#fff" stroke="#000" stroke-width="2.0"/>
<ellipse cx="33.8" cy="329.2" rx="4.6" ry="7.1" transform="rotate(-25 33.8 329.2)" fill="#e8e8e8" stroke="#000" stroke-width="1.3"/>
<path d="M51.58 275.09L67.18 266.99L65.42 263.61L49.82 271.71Z" fill="#fff" stroke="#000" stroke-width="1.2"/>
<path d="M58.6 271.44L56.84 268.07" stroke="#000" stroke-width="0.8"/>
<path d="M62.5 269.42L60.74 266.04" stroke="#000" stroke-width="0.8"/>
<path d="M54.78 273.55L53.19 276.38L50 275.77L48.4 272.33L49.98 269.5L53.17 270.1Z" fill="#fff" stroke="#000" stroke-width="1.2"/>
<path d="M52.56 274.7L50.97 277.54L47.79 276.93L46.18 273.48L47.76 270.65L50.95 271.26Z" fill="#fff" stroke="#000" stroke-width="1.2"/>
<path d="M83.69 364.5L92.39 359.9L90.81 356.9L82.11 361.5Z" fill="#fff" stroke="#000" stroke-width="1.5"/>
<path d="M87.61 362.43L86.02 359.43" stroke="#000" stroke-width="0.8"/>
<path d="M89.78 361.28L88.2 358.28" stroke="#000" stroke-width="0.8"/>
<path d="M86.55 363.06L85.18 365.52L82.41 364.99L81.01 362L82.39 359.54L85.16 360.07Z" fill="#000" stroke="#000" stroke-width="1.5"/>
<path d="M84.34 364.23L82.97 366.69L80.2 366.16L78.8 363.17L80.18 360.71L82.95 361.24Z" fill="#000" stroke="#000" stroke-width="1.5"/>
<ellipse cx="81.27" cy="363.9" rx="0.9" ry="1.6" transform="rotate(-25 81.57 363.7)" fill="#fff"/>
<path d="M94.94 387.8L106.64 382L104.96 378.6L93.26 384.4Z" fill="#fff" stroke="#000" stroke-width="1.2"/>
<path d="M100.21 385.19L98.52 381.79" stroke="#000" stroke-width="0.8"/>
<path d="M103.13 383.74L101.45 380.34" stroke="#000" stroke-width="0.8"/>
<path d="M98.18 386.27L96.6 389.1L93.41 388.49L91.81 385.05L93.39 382.21L96.58 382.82Z" fill="#fff" stroke="#000" stroke-width="1.2"/>
<path d="M95.95 387.38L94.36 390.21L91.17 389.6L89.57 386.16L91.15 383.32L94.34 383.93Z" fill="#fff" stroke="#000" stroke-width="1.2"/>
<path d="M385 48.4L392.28 51.75" stroke="#000" stroke-width="1.7"/>
<path d="M405 57.6L390.61 55.38L393.95 48.12Z" fill="#000"/>
<path d="M475.5 46.8L475.22 56.21" stroke="#000" stroke-width="1.7"/>
<path d="M474.8 70.2L471.22 56.09L479.22 56.33Z" fill="#000"/>
<path d="M329.3 80.1L332.81 91.88" stroke="#000" stroke-width="1.7"/>
<path d="M336.8 105.3L328.97 93.02L336.64 90.74Z" fill="#000"/>
<path d="M570.4 68L570.4 54.2" stroke="#000" stroke-width="1.7"/>
<path d="M570.4 40.2L574.4 54.2L566.4 54.2Z" fill="#000"/>
<path d="M529.5 91.4L531.88 70.91" stroke="#000" stroke-width="1.7"/>
<path d="M533.5 57L535.86 71.37L527.91 70.44Z" fill="#000"/>
<path d="M505.3 105.5L502.15 90.89" stroke="#000" stroke-width="1.7"/>
<path d="M499.2 77.2L506.06 90.04L498.24 91.73Z" fill="#000"/>
<path d="M281 150.3L281 163.5" stroke="#000" stroke-width="1.7"/>
<path d="M281 177.5L277 163.5L285 163.5Z" fill="#000"/>
<path d="M241.5 163.6L242.79 186.02" stroke="#000" stroke-width="1.7"/>
<path d="M243.6 200L238.8 186.25L246.79 185.79Z" fill="#000"/>
<path d="M476 159.8L467.79 153.78" stroke="#000" stroke-width="1.7"/>
<path d="M456.5 145.5L470.16 150.55L465.42 157Z" fill="#000"/>
<path d="M177.6 195.3L179.59 207.19" stroke="#000" stroke-width="1.7"/>
<path d="M181.9 221L175.64 207.85L183.53 206.53Z" fill="#000"/>
<path d="M102.2 201L102.2 222" stroke="#000" stroke-width="1.7"/>
<path d="M102.2 236L98.2 222L106.2 222Z" fill="#000"/>
<path d="M403.1 209L394.84 200.96" stroke="#000" stroke-width="1.7"/>
<path d="M384.8 191.2L397.62 198.09L392.05 203.83Z" fill="#000"/>
<path d="M148.8 222.7L150.29 236.38" stroke="#000" stroke-width="1.7"/>
<path d="M151.8 250.3L146.31 236.81L154.26 235.95Z" fill="#000"/>
<path d="M53.5 227.4L54.64 246.03" stroke="#000" stroke-width="1.7"/>
<path d="M55.5 260L50.65 246.27L58.64 245.78Z" fill="#000"/>
<path d="M285.7 267.6L274.51 259.02" stroke="#000" stroke-width="1.7"/>
<path d="M263.4 250.5L276.94 255.84L272.08 262.19Z" fill="#000"/>
<path d="M319 252.5L300.12 235.55" stroke="#000" stroke-width="1.7"/>
<path d="M289.7 226.2L302.79 232.58L297.45 238.53Z" fill="#000"/>
<path d="M24.3 271.6L25.35 285.54" stroke="#000" stroke-width="1.7"/>
<path d="M26.4 299.5L21.36 285.84L29.34 285.24Z" fill="#000"/>
<path d="M213.8 306.7L203.28 293.38" stroke="#000" stroke-width="1.7"/>
<path d="M194.6 282.4L206.42 290.91L200.14 295.86Z" fill="#000"/>
<path d="M247 289L234.27 273.75" stroke="#000" stroke-width="1.7"/>
<path d="M225.3 263L237.34 271.19L231.2 276.31Z" fill="#000"/>
<path d="M180.6 328.9L165.16 316.62" stroke="#000" stroke-width="1.7"/>
<path d="M154.2 307.9L167.65 313.48L162.67 319.75Z" fill="#000"/>
<path d="M161 347.3L140.63 344.14" stroke="#000" stroke-width="1.7"/>
<path d="M126.8 342L141.25 340.19L140.02 348.1Z" fill="#000"/>
<path d="M54.5 380.3L64.32 374.92" stroke="#000" stroke-width="1.7"/>
<path d="M76.6 368.2L66.24 378.43L62.4 371.41Z" fill="#000"/>
<path d="M136 385L118.6 384.61" stroke="#000" stroke-width="1.7"/>
<path d="M104.6 384.3L118.69 380.61L118.51 388.61Z" fill="#000"/>
<path d="M370.7 40.7L373.1 40.7L373.1 50L370.7 50L370.7 43.5C370.1 44.4 369.1 44.9 368.2 45L368.2 43.1C369.5 42.8 370.4 41.9 370.7 40.7Z" fill="#000"/>
<text x="375.23" y="50" font-size="13" >6</text>
<path d="M470.7 31.7L473.1 31.7L473.1 41L470.7 41L470.7 34.5C470.1 35.4 469.1 35.9 468.2 36L468.2 34.1C469.5 33.8 470.4 32.9 470.7 31.7Z" fill="#000"/>
<text x="475.23" y="41" font-size="13" >2</text>
<path d="M323.7 65L326.1 65L326.1 74.3L323.7 74.3L323.7 67.8C323.1 68.7 322.1 69.2 321.2 69.3L321.2 67.4C322.5 67.1 323.4 66.2 323.7 65Z" fill="#000"/>
<path d="M330.93 65L333.33 65L333.33 74.3L330.93 74.3L330.93 67.8C330.33 68.7 329.33 69.2 328.43 69.3L328.43 67.4C329.73 67.1 330.63 66.2 330.93 65Z" fill="#000"/>
<path d="M565.7 67.9L568.1 67.9L568.1 77.2L565.7 77.2L565.7 70.7C565.1 71.6 564.1 72.1 563.2 72.2L563.2 70.3C564.5 70 565.4 69.1 565.7 67.9Z" fill="#000"/>
<text x="570.23" y="77.2" font-size="13" >5</text>
<path d="M524.7 93.2L527.1 93.2L527.1 102.5L524.7 102.5L524.7 96C524.1 96.9 523.1 97.4 522.2 97.5L522.2 95.6C523.5 95.3 524.4 94.4 524.7 93.2Z" fill="#000"/>
<text x="529.23" y="102.5" font-size="13" >3</text>
<path d="M501.3 107.3L503.7 107.3L503.7 116.6L501.3 116.6L501.3 110.1C500.7 111 499.7 111.5 498.8 111.6L498.8 109.7C500.1 109.4 501 108.5 501.3 107.3Z" fill="#000"/>
<text x="505.83" y="116.6" font-size="13" >4</text>
<text x="276.7" y="144" font-size="13" >2</text>
<text x="237.3" y="156.6" font-size="13" >7</text>
<path d="M482.5 155.7L484.9 155.7L484.9 165L482.5 165L482.5 158.5C481.9 159.4 480.9 159.9 480 160L480 158.1C481.3 157.8 482.2 156.9 482.5 155.7Z" fill="#000"/>
<text x="487.03" y="165" font-size="13" >6</text>
<text x="174" y="188.2" font-size="13" >6</text>
<path d="M97.5 185.3L99.9 185.3L99.9 194.6L97.5 194.6L97.5 188.1C96.9 189 95.9 189.5 95 189.6L95 187.7C96.3 187.4 97.2 186.5 97.5 185.3Z" fill="#000"/>
<text x="102.03" y="194.6" font-size="13" >7</text>
<path d="M410.6 207.3L413 207.3L413 216.6L410.6 216.6L410.6 210.1C410 211 409 211.5 408.1 211.6L408.1 209.7C409.4 209.4 410.3 208.5 410.6 207.3Z" fill="#000"/>
<text x="144.2" y="215.2" font-size="13" >4</text>
<path d="M48.1 212.4L50.5 212.4L50.5 221.7L48.1 221.7L48.1 215.2C47.5 216.1 46.5 216.6 45.6 216.7L45.6 214.8C46.9 214.5 47.8 213.6 48.1 212.4Z" fill="#000"/>
<text x="52.63" y="221.7" font-size="13" >8</text>
<text x="289.7" y="276.7" font-size="13" >8</text>
<text x="324" y="260.6" font-size="13" >9</text>
<path d="M17.9 255.7L20.3 255.7L20.3 265L17.9 265L17.9 258.5C17.3 259.4 16.3 259.9 15.4 260L15.4 258.1C16.7 257.8 17.6 256.9 17.9 255.7Z" fill="#000"/>
<text x="22.43" y="265" font-size="13" >0</text>
<text x="217.9" y="314.7" font-size="13" >5</text>
<text x="249.4" y="297.4" font-size="13" >9</text>
<path d="M184.4 326L186.8 326L186.8 335.3L184.4 335.3L184.4 328.8C183.8 329.7 182.8 330.2 181.9 330.3L181.9 328.4C183.2 328.1 184.1 327.2 184.4 326Z" fill="#000"/>
<text x="188.93" y="335.3" font-size="13" >7</text>
<text x="166.5" y="350" font-size="13" >3</text>
<path d="M42.5 373.8L44.9 373.8L44.9 383.1L42.5 383.1L42.5 376.6C41.9 377.5 40.9 378 40 378.1L40 376.2C41.3 375.9 42.2 375 42.5 373.8Z" fill="#000"/>
<path d="M49.73 373.8L52.13 373.8L52.13 383.1L49.73 383.1L49.73 376.6C49.13 377.5 48.13 378 47.23 378.1L47.23 376.2C48.53 375.9 49.43 375 49.73 373.8Z" fill="#000"/>
<path d="M143.4 378L145.8 378L145.8 387.3L143.4 387.3L143.4 380.8C142.8 381.7 141.8 382.2 140.9 382.3L140.9 380.4C142.2 380.1 143.1 379.2 143.4 378Z" fill="#000"/>
<text x="147.93" y="387.3" font-size="13" >9</text>
<rect x="391.6" y="343.4" width="63" height="23.5" fill="none" stroke="#000" stroke-width="1.6"/>
<text x="398.7" y="359.2" font-size="13">lp950gs</text>
</svg></body></html>
